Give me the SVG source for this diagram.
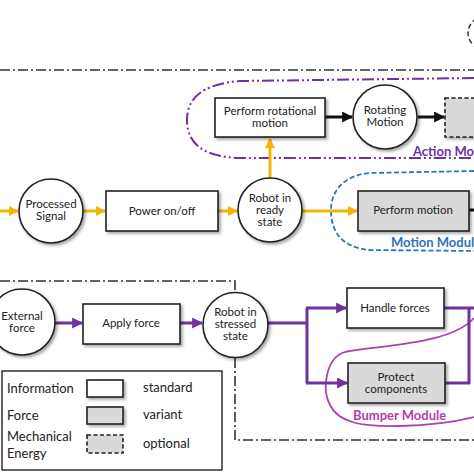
<svg xmlns="http://www.w3.org/2000/svg" width="474" height="474" viewBox="0 0 474 474">
<defs>
<style>
.t{font-family:Lato,"Liberation Sans",sans-serif;font-size:11.5px;fill:#222;text-anchor:middle}
.lg{font-family:Lato,"Liberation Sans",sans-serif;font-size:13px;fill:#222}
.mod{font-family:Lato,"Liberation Sans",sans-serif;font-size:13px;font-weight:bold}
.box{fill:#fff;stroke:#222;stroke-width:1.6}
.var{fill:#d9d9d9;stroke:#222;stroke-width:1.6}
.opt{fill:#d9d9d9;stroke:#222;stroke-width:1.6;stroke-dasharray:4 2.5}
.fn{fill:#fff;stroke:#222;stroke-width:1.6}
.dd{fill:none;stroke:#333;stroke-width:1.6;stroke-dasharray:10 3 2 3}
.y{fill:none;stroke:#f5b400;stroke-width:3}
.k{fill:none;stroke:#111;stroke-width:3}
.p{fill:none;stroke:#7030a0;stroke-width:3}
</style>
<filter id="sh" x="-20%" y="-20%" width="150%" height="150%"><feDropShadow dx="2" dy="2" stdDeviation="1.5" flood-color="#000" flood-opacity="0.35"/></filter>
<marker id="ay" viewBox="0 0 10 10" refX="9" refY="5" markerWidth="10" markerHeight="10" markerUnits="userSpaceOnUse" orient="auto"><path d="M0,0 L10,5 L0,10 Z" fill="#f5b400"/></marker>
<marker id="ak" viewBox="0 0 10 10" refX="9" refY="5" markerWidth="11" markerHeight="11" markerUnits="userSpaceOnUse" orient="auto"><path d="M0,0 L10,5 L0,10 Z" fill="#111"/></marker>
<marker id="ap" viewBox="0 0 10 10" refX="9" refY="5" markerWidth="11" markerHeight="11" markerUnits="userSpaceOnUse" orient="auto"><path d="M0,0 L10,5 L0,10 Z" fill="#7030a0"/></marker>
</defs>
<rect width="474" height="474" fill="#fff"/>

<g id="boundaries">
<ellipse cx="492" cy="33" rx="24" ry="19" fill="none" stroke="#333" stroke-width="1.5" stroke-dasharray="5 3"/>
<path class="dd" d="M0,70 L474,70"/>
<path class="dd" d="M0,281 L235,281 L235,292"/>
<path class="dd" d="M235,358 L235,440 L474,440"/>
</g>

<g id="modules">
<path d="M474,78 L240,81 C200,84 187,100 187,120 C187,145 205,157 240,158 L474,158" fill="none" stroke="#7030a0" stroke-width="2" stroke-dasharray="12 3 2 3 2 3"/>
<path d="M474,171 L370,173 C345,175 331,190 331,210 C331,235 345,248 370,250 L474,251" fill="none" stroke="#2e75b6" stroke-width="1.8" stroke-dasharray="5 2.5"/>
<path d="M474,318 C450,345 380,345 345,352 C325,358 322,390 330,405 C338,422 360,427 400,426 C440,425 462,420 474,417" fill="none" stroke="#b040b0" stroke-width="1.8"/>
<text class="mod" x="413" y="156" fill="#7030a0" style="fill:#7030a0">Action Module</text>
<text class="mod" x="391" y="247" style="fill:#2e75b6">Motion Module</text>
<text class="mod" x="353" y="420" style="fill:#b040b0">Bumper Module</text>
</g>

<g id="connectors">
<path class="y" d="M0,211 L18,211" marker-end="url(#ay)"/>
<path class="y" d="M83,211 L105,211" marker-end="url(#ay)"/>
<path class="y" d="M218,211 L237,211" marker-end="url(#ay)"/>
<path class="y" d="M302,211 L357,211" marker-end="url(#ay)"/>
<path class="y" d="M270,178 L270,139" marker-end="url(#ay)"/>
<path class="k" d="M325,117 L352,117" marker-end="url(#ak)"/>
<path class="k" d="M418,117 L444,117" marker-end="url(#ak)"/>
<path class="k" d="M469,210 L474,210"/>
<path class="p" d="M55,323 L82,323" marker-end="url(#ap)"/>
<path class="p" d="M180,323 L202,323" marker-end="url(#ap)"/>
<path class="p" d="M268,323 L307,323"/>
<path class="p" d="M307,308 L307,383"/>
<path class="p" d="M306,308 L346,308" marker-end="url(#ap)"/>
<path class="p" d="M306,383 L347,383" marker-end="url(#ap)"/>
<path class="p" d="M444,308 L474,308"/>
<path class="p" d="M445,383 L469,383 L469,307"/>
</g>

<g id="perform-rotational" filter="url(#sh)"><rect class="box" x="215" y="98" width="110" height="39"/></g>
<text class="t" x="270" y="115">Perform rotational</text>
<text class="t" x="270" y="127">motion</text>

<g id="rotating-motion"><circle class="fn" cx="385" cy="117" r="32" filter="url(#sh)"/>
<text class="t" x="385" y="114">Rotating</text><text class="t" x="385" y="126">Motion</text></g>

<g id="optional-top" filter="url(#sh)"><rect class="opt" x="445" y="98" width="40" height="39"/></g>

<g id="processed-signal"><circle class="fn" cx="51" cy="211" r="32" filter="url(#sh)"/>
<text class="t" x="51" y="208">Processed</text><text class="t" x="51" y="220">Signal</text></g>

<g id="power"><rect class="box" x="106" y="191" width="112" height="40" filter="url(#sh)"/>
<text class="t" x="162" y="215">Power on/off</text></g>

<g id="robot-ready"><circle class="fn" cx="270" cy="210" r="32" filter="url(#sh)"/>
<text class="t" x="270" y="202">Robot in</text><text class="t" x="270" y="214">ready</text><text class="t" x="270" y="226">state</text></g>

<g id="perform-motion"><rect class="var" x="358" y="191" width="111" height="40" filter="url(#sh)"/>
<text class="t" x="413" y="214">Perform motion</text></g>

<g id="external-force"><circle class="fn" cx="22" cy="322" r="33" filter="url(#sh)"/>
<text class="t" x="22" y="320">External</text><text class="t" x="22" y="332">force</text></g>

<g id="apply-force"><rect class="box" x="83" y="304" width="97" height="40" filter="url(#sh)"/>
<text class="t" x="131" y="327">Apply force</text></g>

<g id="robot-stressed"><circle class="fn" cx="235.5" cy="325" r="32.5" filter="url(#sh)"/>
<text class="t" x="235.5" y="316">Robot in</text><text class="t" x="235.5" y="328">stressed</text><text class="t" x="235.5" y="340">state</text></g>

<g id="handle-forces"><rect class="box" x="347" y="288" width="97" height="40" filter="url(#sh)"/>
<text class="t" x="395" y="312">Handle forces</text></g>

<g id="protect"><rect class="var" x="348" y="363" width="97" height="40" filter="url(#sh)"/>
<text class="t" x="396" y="381">Protect</text><text class="t" x="396" y="393">components</text></g>

<g id="legend">
<rect x="2" y="371" width="220" height="99" fill="#fff" stroke="#222" stroke-width="1.4"/>
<text class="lg" x="7" y="393">Information</text>
<text class="lg" x="7" y="420">Force</text>
<text class="lg" x="7" y="441">Mechanical</text>
<text class="lg" x="7" y="458">Energy</text>
<rect class="box" x="87" y="380" width="36" height="17" filter="url(#sh)"/>
<rect class="var" x="87" y="407" width="36" height="17" filter="url(#sh)"/>
<rect class="opt" x="87" y="435" width="36" height="18"/>
<text class="lg" x="143" y="392">standard</text>
<text class="lg" x="143" y="419">variant</text>
<text class="lg" x="143" y="448">optional</text>
</g>
</svg>
